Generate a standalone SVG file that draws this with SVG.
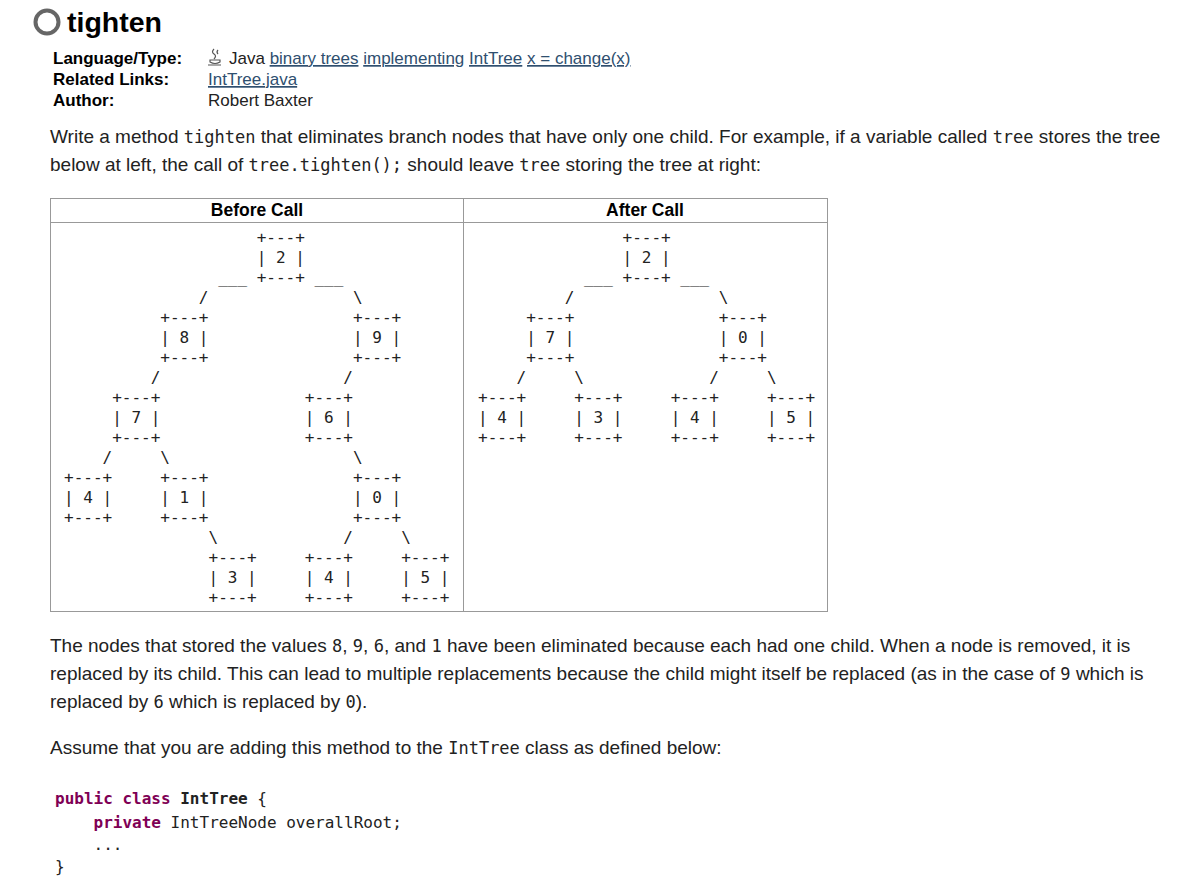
<svg xmlns="http://www.w3.org/2000/svg" width="1204" height="888" viewBox="0 0 1204 888">
<style>
.s{font-family:"Liberation Sans",Arial,sans-serif;fill:#222}
.b{font-weight:bold;fill:#000}
.m{font-family:"DejaVu Sans Mono","Liberation Mono",monospace;font-size:17px}
.p{font-size:19px}
.lnk{fill:#2f4f6f;text-decoration:underline}
.tree text{font-family:"DejaVu Sans Mono","Liberation Mono",monospace;font-size:16px;fill:#222;white-space:pre}
.kw{fill:#7f0055;font-weight:bold}
</style>
<rect width="1204" height="888" fill="#fff"/>
<g id="title">
<circle cx="47" cy="22" r="11.5" fill="none" stroke="#666" stroke-width="4"/>
<text x="67" y="32" class="s b" font-size="28.5">tighten</text>
</g>
<g id="meta">
<text x="53" y="64" class="s b" font-size="17">Language/Type:</text>
<text x="53" y="85" class="s b" font-size="17">Related Links:</text>
<text x="53" y="106" class="s b" font-size="17">Author:</text>
<g fill="none" stroke="#555" stroke-width="1.2">
<path d="M214 49 q-3 3 0 5 q3 2 0 5 M218 50 q-2 2 0 4"/>
<path d="M210 60 h10 v2 q-5 3 -10 0 z M208 65 h13"/>
</g>
<text x="229" y="64" class="s" font-size="17">Java <tspan class="lnk">binary trees</tspan> <tspan class="lnk">implementing</tspan> <tspan class="lnk">IntTree</tspan> <tspan class="lnk">x = change(x)</tspan></text>
<text x="208" y="85" class="s lnk" font-size="17">IntTree.java</text>
<text x="208" y="106" class="s" font-size="17">Robert Baxter</text>
</g>
<g id="intro">
<text x="50" y="143" class="s p">Write a method <tspan class="m">tighten</tspan> that eliminates branch nodes that have only one child. For example, if a variable called <tspan class="m">tree</tspan> stores the tree</text>
<text x="50" y="171" class="s p">below at left, the call of <tspan class="m">tree.tighten();</tspan> should leave <tspan class="m">tree</tspan> storing the tree at right:</text>
</g>
<g id="table">
<rect x="50.5" y="198.5" width="777" height="413" fill="none" stroke="#999"/>
<line x1="50" y1="222.5" x2="828" y2="222.5" stroke="#999"/>
<line x1="463.5" y1="198" x2="463.5" y2="612" stroke="#999"/>
<text x="257" y="216" text-anchor="middle" class="s b" font-size="17.5">Before Call</text>
<text x="645" y="216" text-anchor="middle" class="s b" font-size="17.5">After Call</text>
</g>
<g id="before-tree" class="tree">
<text x="64" y="243">                    +---+</text>
<text x="64" y="263">                    | 2 |</text>
<text x="64" y="283">                ___ +---+ ___</text>
<text x="64" y="303">              /               \</text>
<text x="64" y="323">          +---+               +---+</text>
<text x="64" y="343">          | 8 |               | 9 |</text>
<text x="64" y="363">          +---+               +---+</text>
<text x="64" y="383">         /                   /</text>
<text x="64" y="403">     +---+               +---+</text>
<text x="64" y="423">     | 7 |               | 6 |</text>
<text x="64" y="443">     +---+               +---+</text>
<text x="64" y="463">    /     \                   \</text>
<text x="64" y="483">+---+     +---+               +---+</text>
<text x="64" y="503">| 4 |     | 1 |               | 0 |</text>
<text x="64" y="523">+---+     +---+               +---+</text>
<text x="64" y="543">               \             /     \</text>
<text x="64" y="563">               +---+     +---+     +---+</text>
<text x="64" y="583">               | 3 |     | 4 |     | 5 |</text>
<text x="64" y="603">               +---+     +---+     +---+</text>
</g>
<g id="after-tree" class="tree">
<text x="478" y="243">               +---+</text>
<text x="478" y="263">               | 2 |</text>
<text x="478" y="283">           ___ +---+ ___</text>
<text x="478" y="303">         /               \</text>
<text x="478" y="323">     +---+               +---+</text>
<text x="478" y="343">     | 7 |               | 0 |</text>
<text x="478" y="363">     +---+               +---+</text>
<text x="478" y="383">    /     \             /     \</text>
<text x="478" y="403">+---+     +---+     +---+     +---+</text>
<text x="478" y="423">| 4 |     | 3 |     | 4 |     | 5 |</text>
<text x="478" y="443">+---+     +---+     +---+     +---+</text>
</g>
<g id="explain">
<text x="50" y="652" class="s p">The nodes that stored the values <tspan class="m">8</tspan>, <tspan class="m">9</tspan>, <tspan class="m">6</tspan>, and <tspan class="m">1</tspan> have been eliminated because each had one child. When a node is removed, it is</text>
<text x="50" y="680" class="s p">replaced by its child. This can lead to multiple replacements because the child might itself be replaced (as in the case of <tspan class="m">9</tspan> which is</text>
<text x="50" y="708" class="s p">replaced by <tspan class="m">6</tspan> which is replaced by <tspan class="m">0</tspan>).</text>
<text x="50" y="754" class="s p">Assume that you are adding this method to the <tspan class="m">IntTree</tspan> class as defined below:</text>
</g>
<g id="code" class="tree">
<text x="55" y="804"><tspan class="kw">public class</tspan> <tspan font-weight="bold">IntTree</tspan> {</text>
<text x="55" y="828">    <tspan class="kw">private</tspan> IntTreeNode overallRoot;</text>
<text x="55" y="850">    ...</text>
<text x="55" y="872">}</text>
</g>
</svg>
